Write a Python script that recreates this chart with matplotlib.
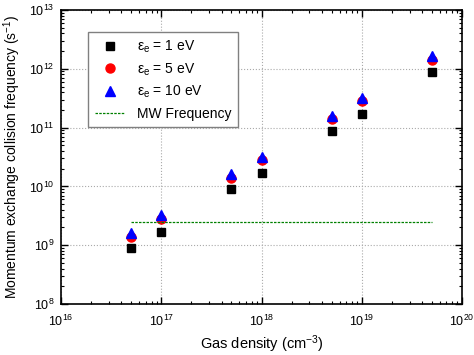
import matplotlib
matplotlib.use("Agg")
import matplotlib.pyplot as plt
from matplotlib.ticker import LogLocator, NullFormatter

density = [5e16, 1e17, 5e17, 1e18, 5e18, 1e19, 5e19]
nu_1eV = [0.89e9, 1.7e9, 0.89e10, 1.7e10, 0.89e11, 1.7e11, 0.89e12]
nu_5eV = [1.4e9, 2.8e9, 1.4e10, 2.8e10, 1.4e11, 2.8e11, 1.4e12]
nu_10eV = [1.6e9, 3.2e9, 1.6e10, 3.2e10, 1.6e11, 3.2e11, 1.65e12]
mw_x = [5e16, 5e19]
mw_y = [2.45e9, 2.45e9]

plt.rcParams['font.family'] = ['Liberation Sans', 'DejaVu Sans']
plt.rcParams['mathtext.fontset'] = 'custom'
plt.rcParams['mathtext.rm'] = 'Liberation Sans'
plt.rcParams['mathtext.it'] = 'Liberation Sans'
plt.rcParams['mathtext.default'] = 'regular'
fig = plt.figure(figsize=(4.74, 3.55), dpi=100)
ax = fig.add_axes([61/474, 1-304/355, 401/474, 294/355])

ax.plot(density, nu_1eV, 's', color='black', ms=6, label='ε$_e$ = 1 eV', ls='none')
ax.plot(density, nu_5eV, 'o', color='red', ms=6.5, label='ε$_e$ = 5 eV', ls='none')
ax.plot(density, nu_10eV, '^', color='blue', ms=7, label='ε$_e$ = 10 eV', ls='none')
ax.plot(mw_x, mw_y, ls=(0, (2, 1)), color='green', lw=0.9, label='MW Frequency')

ax.set_xscale('log')
ax.set_yscale('log')
ax.set_xlim(1e16, 1e20)
ax.set_ylim(1e8, 1e13)
ax.grid(True, which='major', ls=':', color='#aaaaaa', lw=0.8)
ax.xaxis.set_minor_locator(LogLocator(base=10, subs=range(2, 10), numticks=20))
ax.yaxis.set_minor_locator(LogLocator(base=10, subs=range(2, 10), numticks=20))
ax.xaxis.set_minor_formatter(NullFormatter())
ax.yaxis.set_minor_formatter(NullFormatter())
ax.tick_params(which='both', direction='in', top=True, right=True, labelsize=9)
ax.tick_params(which='major', length=5, width=1)
ax.tick_params(which='minor', length=2.5, width=0.8)
ax.tick_params(axis='x', which='major', pad=7)
ax.tick_params(axis='y', which='major', pad=5)
for s in ax.spines.values():
    s.set_linewidth(1.2)
ax.set_xlabel('Gas density (cm$^{-3}$)', fontsize=10.5, labelpad=3)
ax.set_ylabel('Momentum exchange collision frequency (s$^{-1}$)', fontsize=10, labelpad=4)
ax.legend(loc='upper left', bbox_to_anchor=(0.05, 0.95), fontsize=10,
          frameon=True, fancybox=False, edgecolor='gray', framealpha=1,
          handlelength=2.2, labelspacing=0.45, borderpad=0.5)
fig.savefig('out.png', dpi=100)
